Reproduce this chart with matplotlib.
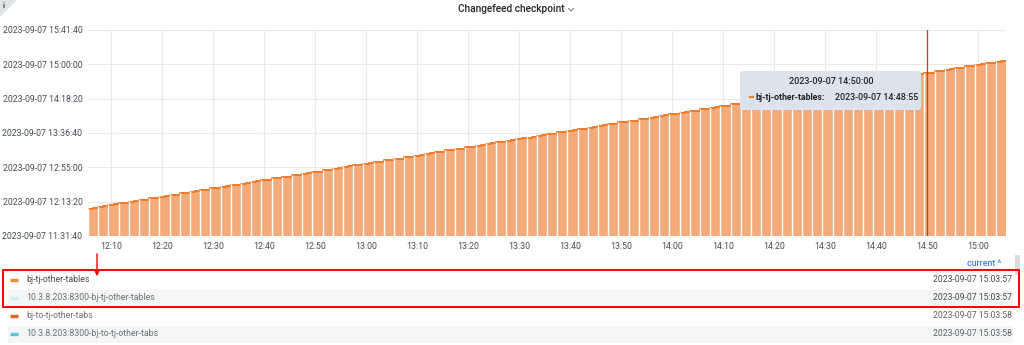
import matplotlib
matplotlib.use("Agg")
import matplotlib.pyplot as plt
from matplotlib.patches import Rectangle, FancyBboxPatch, Polygon
import numpy as np

plt.rcParams['font.family'] = ['Roboto', 'DejaVu Sans']

# ---------------- data ----------------
DATE = "2023-09-07"
title = "Changefeed checkpoint"
window_start = "12:05:30"          # first sample (1-minute resolution, 3h window)
sample_step_s = 60
# checkpoint lag (seconds behind sample time), one value per sample
checkpoint_lag_s = [
    95, 100, 70, 92, 64, 88, 75, 104, 66, 90, 72, 98, 60, 86, 78, 102, 68, 94,
    74, 96, 62, 89, 80, 106, 65, 91, 70, 99, 58, 84, 76, 101, 67, 93, 73, 97,
    61, 87, 79, 105, 69, 95, 63, 90, 77, 103, 66, 92, 71, 98, 59, 85, 75, 100,
    68, 94, 72, 96, 64, 88, 80, 107, 62, 89, 74, 99, 67, 91, 70, 97, 60, 86,
    78, 104, 65, 92, 73, 98, 61, 87, 76, 102, 69, 95, 63, 90, 79, 105, 66, 93,
    71, 97, 58, 84, 77, 103, 68, 94, 72, 96, 64, 89, 80, 106, 62, 88, 75, 100,
    67, 92, 70, 98, 60, 86, 78, 104, 65, 91, 73, 99, 61, 87, 76, 101, 69, 95,
    63, 90, 79, 105, 66, 93, 71, 97, 59, 85, 75, 100, 68, 94, 72, 96, 64, 88,
    80, 107, 62, 89, 74, 99, 67, 92, 70, 97, 60, 86, 78, 103, 65, 91, 73, 98,
    61, 87, 76, 102, 69, 95, 63, 90, 79, 105, 66, 93, 71, 96, 58, 84, 72, 90,
]
y_ticks = ["11:31:40", "12:13:20", "12:55:00", "13:36:40", "14:18:20", "15:00:00", "15:41:40"]
x_ticks = ["12:10", "12:20", "12:30", "12:40", "12:50", "13:00", "13:10", "13:20", "13:30",
           "13:40", "13:50", "14:00", "14:10", "14:20", "14:30", "14:40", "14:50", "15:00"]
x_range = ["12:05:30", "15:05:30"]
cursor_time = "14:50:00"
tooltip_series = "bj-tj-other-tables:"
tooltip_value = "14:48:55"
legend_names = ["bj-tj-other-tables", "10.3.8.203:8300-bj-tj-other-tables",
                "bj-to-tj-other-tabs", "10.3.8.203:8300-bj-to-tj-other-tabs"]
legend_current = ["15:03:57", "15:03:57", "15:03:58", "15:03:58"]
legend_colors = ["#f2893c", "#c6f1f8", "#e2622b", "#5cc5e6"]


def secs(s):
    p = [int(v) for v in s.split(":")]
    while len(p) < 3:
        p.append(0)
    return p[0] * 3600 + p[1] * 60 + p[2]


t0 = secs(window_start)
t = np.array([t0 + i * sample_step_s for i in range(len(checkpoint_lag_s))], dtype=float)
vals = t + sample_step_s - np.array(checkpoint_lag_s, dtype=float)

W, H = 1024, 345
fig = plt.figure(figsize=(W / 100, H / 100), dpi=100)
fig.patch.set_facecolor("white")

ax = fig.add_axes([88 / W, 1 - 236 / H, (1006 - 88) / W, (236 - 30) / H])
ymin, ymax = secs(y_ticks[0]), secs(y_ticks[-1])
ax.set_xlim(secs(x_range[0]), secs(x_range[1]))
ax.set_ylim(ymin, ymax)

fill_c = "#f5ab79"
line_c = "#ee7a2a"
ax.bar(t, vals - ymin, bottom=ymin, width=sample_step_s, align="edge",
       color=fill_c, linewidth=0, zorder=2)
ax.step(np.append(t, t[-1] + sample_step_s), np.append(vals, vals[-1]), where="post",
        color=line_c, lw=1.4, zorder=3)
# white separators between 2-minute bar groups
for i in range(0, len(t), 2):
    ax.vlines(t[i], ymin, max(vals[i], vals[i - 1] if i > 0 else vals[i]) + 40,
              color="white", lw=1.0, zorder=4)

ax.axvline(secs(cursor_time), color="#b1463d", lw=0.9, zorder=5)

ax.set_yticks([secs(v) for v in y_ticks])
ax.set_yticklabels([f"{DATE} {v}" for v in y_ticks])
ax.set_xticks([secs(v) for v in x_ticks])
ax.set_xticklabels(x_ticks)
ax.tick_params(length=0, labelsize=6.3, labelcolor="#464c54")
ax.tick_params(axis="y", pad=4)
ax.tick_params(axis="x", pad=4)
ax.grid(True, color="#e9e9e9", lw=0.8, zorder=0)
ax.set_axisbelow(True)
for s in ax.spines.values():
    s.set_visible(False)

# ---------------- overlay in pixel coords ----------------
ov = fig.add_axes([0, 0, 1, 1], zorder=10)
ov.set_xlim(0, W)
ov.set_ylim(H, 0)
ov.axis("off")
ov.patch.set_alpha(0)

# info corner
ov.add_patch(Polygon([(0, 0), (17, 0), (0, 17)], closed=True, fc="#dfe2e7", ec="none"))
ov.text(4, 5, "i", fontsize=5.5, color="#3a3f47", ha="center", va="center", weight="bold")

# title
ov.text(511, 9, title, fontsize=7.3, color="#22252b", ha="center", va="center", weight="medium")
ov.plot([568.5, 571, 573.5], [8.5, 11, 8.5], color="#6e7178", lw=0.7)

# tooltip
ov.add_patch(FancyBboxPatch((740, 71), 181, 39, boxstyle="round,pad=0,rounding_size=3",
                            fc="#dde3ec", ec="none"))
ov.text(831, 82, f"{DATE} {cursor_time}", fontsize=6.5, color="#1f2328",
        ha="center", va="center", weight="medium")
ov.plot([748.5, 754], [97, 97], color=line_c, lw=1.6, solid_capstyle="butt")
ov.text(756, 97, tooltip_series, fontsize=6.2, color="#1f2328", ha="left", va="center", weight="bold")
ov.text(835, 97, f"{DATE} {tooltip_value}", fontsize=6.4, color="#1f2328",
        ha="left", va="center", weight="medium")

# legend table
ov.text(1001, 263, "current ^", fontsize=6.4, color="#3a86d4", ha="right", va="center", weight="medium")
ov.add_patch(Rectangle((1015, 255), 5, 20, fc="#dcdcdc", ec="none"))
row_y = [280, 298, 316, 334]
for k, (name, cur, col, yy) in enumerate(zip(legend_names, legend_current, legend_colors, row_y)):
    if k % 2 == 1:
        ov.add_patch(Rectangle((8, yy - 8.5), 1005, 17, fc="#f4f5f5", ec="none"))
    ov.plot([10, 18], [yy, yy], color=col, lw=2.4, solid_capstyle="butt")
    ov.text(26, yy, name, fontsize=6.3, color="#464c54" if k == 0 else "#6c7078",
            ha="left", va="center")
    ov.text(1012, yy, f"{DATE} {cur}", fontsize=6.2, color="#464c54" if k < 2 else "#5c6068",
            ha="right", va="center")

ov.add_patch(Rectangle((3, 270), 1016, 37, fc="none", ec="#ff0000", lw=1.4))
ov.annotate("", xy=(97, 279), xytext=(97, 251),
            arrowprops=dict(arrowstyle="-|>", color="#ff0000", lw=1.0, mutation_scale=8))

fig.savefig("out.png", dpi=100, facecolor="white")
